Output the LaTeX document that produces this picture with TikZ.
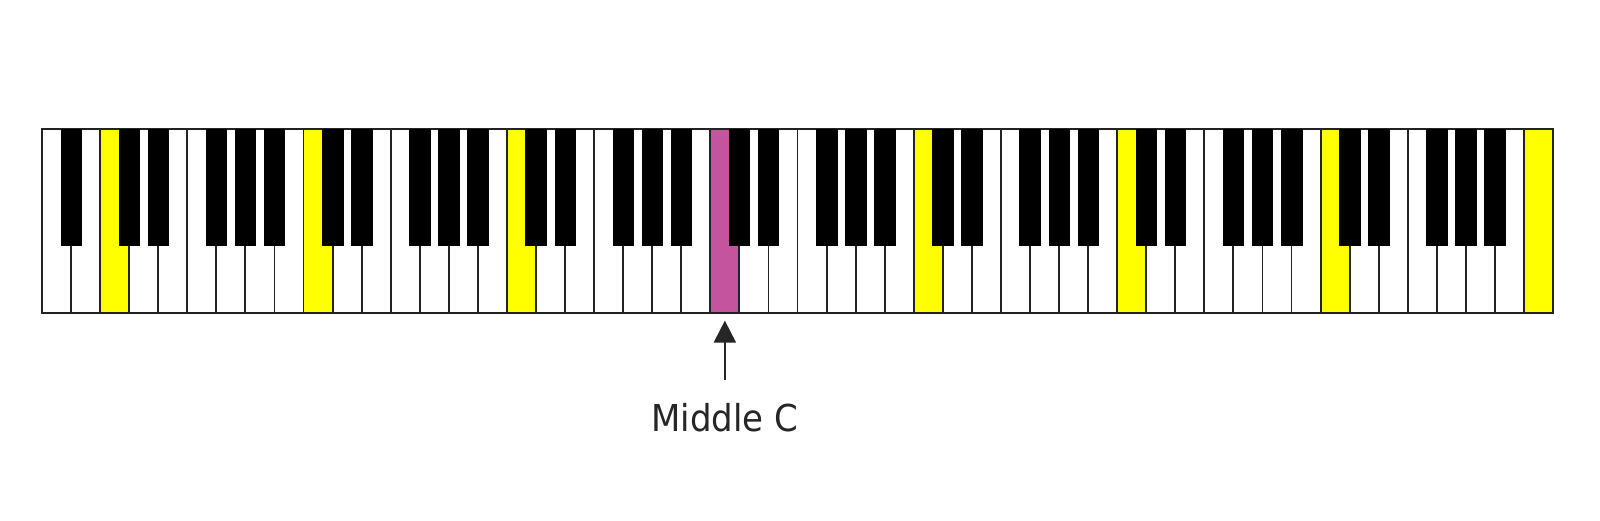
\documentclass[tikz,border=0pt]{standalone}
\usepackage{fontspec}
\usepackage{graphicx}
\setmainfont{DejaVu Sans}
\usetikzlibrary{arrows.meta}
\definecolor{keyyellow}{RGB}{255,255,0}
\definecolor{keymagenta}{RGB}{196,84,158}
\definecolor{keyline}{RGB}{35,35,35}
\tikzset{
  whitekey/.style={draw=keyline, line width=1.9pt, inner sep=0pt, outer sep=0pt,
    minimum width=29.058pt, minimum height=183.6pt, anchor=north west},
  blackkey/.style={fill=black, draw=black, line width=0.5pt, inner sep=0pt, outer sep=0pt,
    minimum width=20.5pt, minimum height=116.5pt, anchor=north},
  pointer/.style={line width=2pt, draw=black!85, -{Triangle[width=22pt,length=22pt]}},
  caption/.style={font=\fontsize{34}{40}\selectfont, inner sep=0pt, anchor=base, text=black!85}
}
\begin{document}
\begin{tikzpicture}[x=1pt,y=-1pt]
\useasboundingbox[fill=white] (0,0) rectangle (1600,520);
\foreach \i in {0,...,51}{
  \pgfmathtruncatemacro\m{mod(\i,7)}
  \ifnum\m=2 \def\kc{keyyellow}\else\def\kc{white}\fi
  \ifnum\i=23 \def\kc{keymagenta}\fi
  \node[whitekey, fill=\kc] (w\i) at ({42+\i*29.058},129) {};
}
\foreach \i in {0,...,50}{
  \pgfmathtruncatemacro\m{mod(\i,7)}
  \ifnum\m=1 \else\ifnum\m=4 \else
    \node[blackkey] (b\i) at (w\i.north east) {};
  \fi\fi
}
\coordinate (tail) at ([yshift=-67.5pt]w23.south);
\draw[pointer] (tail) -- ([yshift=-8pt]w23.south);
\node[caption] (label) at ([yshift=-118.5pt]w23.south) {\scalebox{1}[1.09]{Middle C}};
\end{tikzpicture}
\end{document}
